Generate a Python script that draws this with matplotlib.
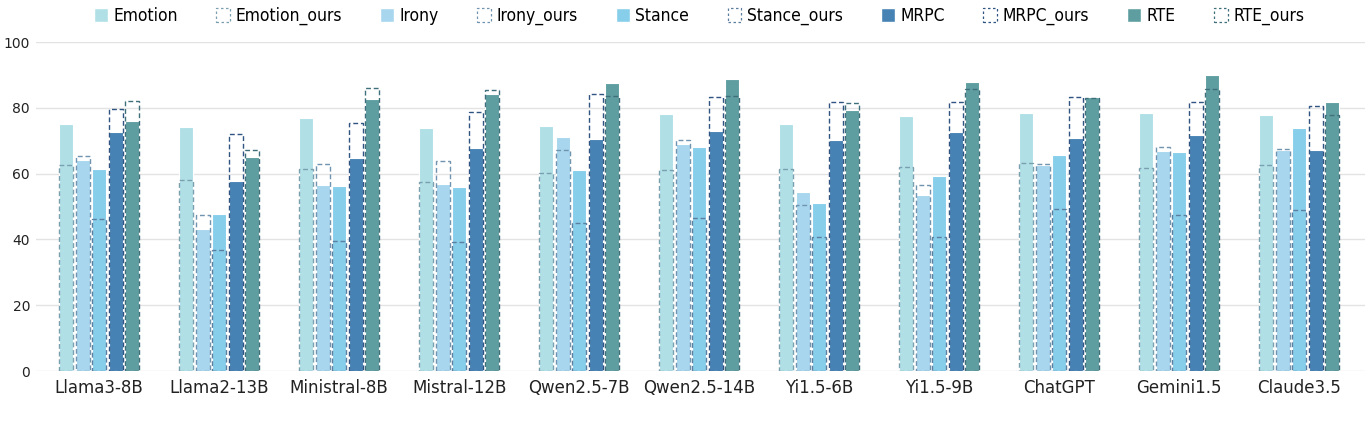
import numpy as np
import matplotlib

matplotlib.use("Agg")
import matplotlib.pyplot as plt
from matplotlib.patches import Patch


# ---------------------------------------------------------------------------
# Data
# ---------------------------------------------------------------------------
MODELS = ["Llama3-8B", "Llama2-13B", "Ministral-8B", "Mistral-12B", "Qwen2.5-7B",
          "Qwen2.5-14B", "Yi1.5-6B", "Yi1.5-9B", "ChatGPT", "Gemini1.5", "Claude3.5"]
TASKS = ["Emotion", "Irony", "Stance", "MRPC", "RTE"]

emotion = [75.0, 74.2, 77.0, 73.9, 74.4, 78.2, 75.2, 77.5, 78.3, 78.5, 77.7]
emotion_ours = [62.5, 58.2, 61.3, 57.5, 60.1, 61.0, 61.5, 62.0, 63.3, 61.7, 62.5]
irony = [64.0, 43.2, 56.6, 56.9, 71.1, 69.1, 54.5, 53.5, 62.5, 66.8, 67.3]
irony_ours = [65.3, 47.4, 63.0, 63.8, 67.1, 70.1, 50.4, 56.5, 62.8, 68.1, 67.5]
stance = [61.5, 47.8, 56.4, 55.9, 61.1, 68.1, 51.1, 59.4, 65.6, 66.6, 73.9]
stance_ours = [46.3, 36.7, 39.5, 39.2, 45.1, 46.6, 40.7, 40.9, 49.4, 47.3, 48.9]
mrpc = [72.6, 57.9, 64.8, 67.8, 70.4, 72.9, 70.2, 72.6, 70.9, 71.9, 67.1]
mrpc_ours = [79.7, 72.2, 75.4, 78.7, 84.3, 83.3, 81.8, 81.8, 83.3, 81.8, 80.5]
rte = [75.9, 65.1, 82.8, 84.1, 87.6, 88.9, 79.2, 87.9, 83.3, 90.1, 81.9]
rte_ours = [82.0, 67.2, 85.9, 85.3, 83.5, 83.7, 81.5, 85.6, 83.0, 85.8, 77.8]

BASE = [emotion, irony, stance, mrpc, rte]
OURS = [emotion_ours, irony_ours, stance_ours, mrpc_ours, rte_ours]

COLORS = ["#b0e0e6", "#a8d6ee", "#87ceeb", "#4682b4", "#5f9ea0"]
EDGES = ["#7a9fae", "#7094b0", "#5a7f9f", "#2f5482", "#3f6f7a"]


def main() -> None:
    plt.rcParams["font.family"] = "DejaVu Sans"
    fig = plt.figure(figsize=(13.68, 4.29), dpi=100)
    ax = fig.add_axes([0.026, 0.135, 0.972, 0.767])

    x = np.arange(len(MODELS))
    step = 0.137   # distance between neighbouring bars in a group
    width = 0.115  # bar width (leaves a small white gap)
    handles = []
    for i, task in enumerate(TASKS):
        pos = x + (i - 2) * step
        ax.bar(pos, BASE[i], width, color=COLORS[i], edgecolor="white",
               linewidth=0.8, zorder=2)
        ax.bar(pos, OURS[i], width, facecolor="none", edgecolor=EDGES[i],
               linestyle=(0, (3.5, 2)), linewidth=1.0, zorder=3)
        handles.append(Patch(facecolor=COLORS[i], edgecolor="white", label=task))
        handles.append(Patch(facecolor="none", edgecolor=EDGES[i],
                             linestyle=(0, (2, 2)), linewidth=0.9,
                             label=task + "_ours"))

    ax.set_xlim(-0.53, 10.55)
    ax.set_ylim(0, 100)
    ax.set_xticks(x)
    ax.set_xticklabels(MODELS, fontsize=12)
    ax.set_yticks([0, 20, 40, 60, 80, 100])
    ax.tick_params(axis="y", labelsize=10, length=0, pad=4, colors="#222222")
    ax.tick_params(axis="x", length=0, pad=6, colors="#222222")
    ax.yaxis.grid(True, color="#e3e3e3", linewidth=1.0, zorder=0)
    ax.set_axisbelow(True)
    for spine in ax.spines.values():
        spine.set_visible(False)

    fig.legend(handles=handles, loc="upper center", bbox_to_anchor=(0.511, 1.02),
               ncol=10, frameon=False, handlelength=0.8,
               handleheight=0.8, handletextpad=0.3, columnspacing=2.22,
               prop={"size": 12.5, "stretch": "condensed"})

    fig.savefig("out.png", dpi=100)
    plt.close(fig)


if __name__ == "__main__":
    main()
